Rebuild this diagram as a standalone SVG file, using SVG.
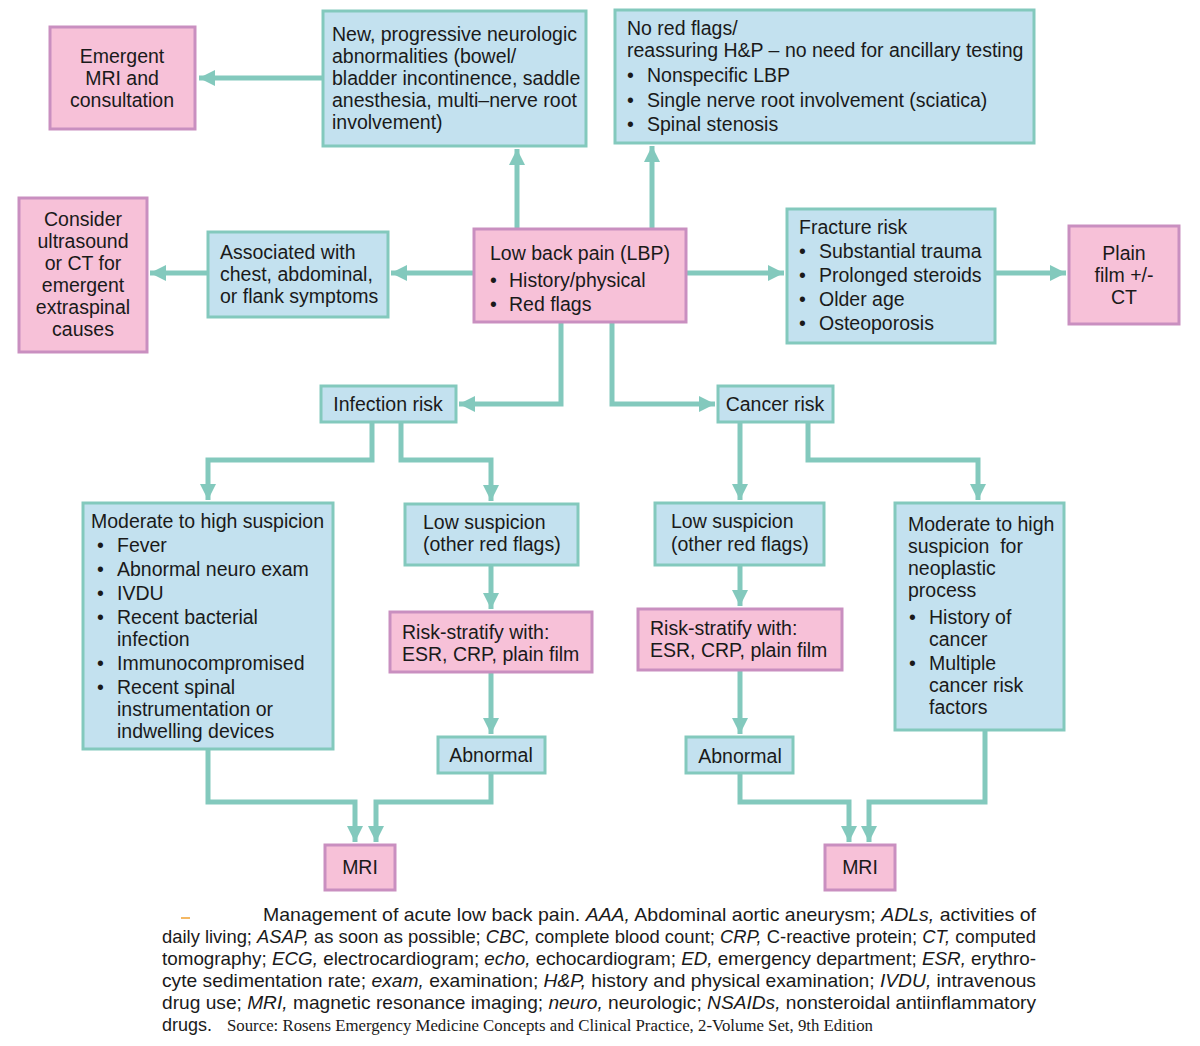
<svg xmlns="http://www.w3.org/2000/svg" width="1200" height="1046" viewBox="0 0 1200 1046">
<style>
.b{fill:#c3e1ef;stroke:#83c9bd;stroke-width:3}
.p{fill:#f7c1d8;stroke:#c98fc0;stroke-width:3}
.t{font-family:"Liberation Sans",Arial,sans-serif;font-size:19.5px;fill:#1a1a1a}
.c{text-anchor:middle}
.k{fill:none;stroke:#83c9bd;stroke-width:5}
.cap{font-family:"Liberation Sans",Arial,sans-serif;font-size:18.5px;fill:#1a1a1a}
.src{font-family:"Liberation Serif","Times New Roman",serif;font-size:16.5px;fill:#1a1a1a}
</style>
<defs>
<marker id="a" markerUnits="userSpaceOnUse" markerWidth="18" markerHeight="16" refX="16" refY="8" orient="auto">
<path d="M0,0 L16,8 L0,16 Z" fill="#83c9bd"/>
</marker>
</defs>
<rect width="1200" height="1046" fill="#fff"/>

<g id="connectors">
<path class="k" d="M323,78 H199" marker-end="url(#a)"/>
<path class="k" d="M517,229 V149" marker-end="url(#a)"/>
<path class="k" d="M652,229 V146" marker-end="url(#a)"/>
<path class="k" d="M474,273 H391" marker-end="url(#a)"/>
<path class="k" d="M208,273 H150" marker-end="url(#a)"/>
<path class="k" d="M686,273 H784" marker-end="url(#a)"/>
<path class="k" d="M995,273 H1066" marker-end="url(#a)"/>
<path class="k" d="M561,322 V404 H459" marker-end="url(#a)"/>
<path class="k" d="M612,322 V404 H715" marker-end="url(#a)"/>
<path class="k" d="M372,422 V460 H208 V500" marker-end="url(#a)"/>
<path class="k" d="M401,422 V460 H491 V501" marker-end="url(#a)"/>
<path class="k" d="M491,565 V609" marker-end="url(#a)"/>
<path class="k" d="M491,672 V734" marker-end="url(#a)"/>
<path class="k" d="M208,749 V802 H355 V842" marker-end="url(#a)"/>
<path class="k" d="M491,773 V802 H376 V842" marker-end="url(#a)"/>
<path class="k" d="M740,422 V500" marker-end="url(#a)"/>
<path class="k" d="M808,422 V460 H978 V500" marker-end="url(#a)"/>
<path class="k" d="M740,565 V606" marker-end="url(#a)"/>
<path class="k" d="M740,670 V734" marker-end="url(#a)"/>
<path class="k" d="M740,773 V802 H849 V842" marker-end="url(#a)"/>
<path class="k" d="M985,730 V802 H869 V842" marker-end="url(#a)"/>
</g>

<g id="emergent-mri">
<rect class="p" x="50" y="27" width="145" height="102"/>
<text class="t c"><tspan x="122" y="63">Emergent</tspan><tspan x="122" y="85">MRI and</tspan><tspan x="122" y="107">consultation</tspan></text>
</g>

<g id="neuro">
<rect class="b" x="323" y="11" width="263" height="135"/>
<text class="t"><tspan x="332" y="41">New, progressive neurologic</tspan><tspan x="332" y="63">abnormalities (bowel/</tspan><tspan x="332" y="85">bladder incontinence, saddle</tspan><tspan x="332" y="107">anesthesia, multi–nerve root</tspan><tspan x="332" y="129">involvement)</tspan></text>
</g>

<g id="no-red-flags">
<rect class="b" x="615" y="10" width="419" height="133"/>
<text class="t"><tspan x="627" y="35">No red flags/</tspan><tspan x="627" y="57">reassuring H&amp;P – no need for ancillary testing</tspan><tspan x="627" y="82">•</tspan><tspan x="647" y="82">Nonspecific LBP</tspan><tspan x="627" y="107">•</tspan><tspan x="647" y="107">Single nerve root involvement (sciatica)</tspan><tspan x="627" y="131">•</tspan><tspan x="647" y="131">Spinal stenosis</tspan></text>
</g>

<g id="consider-us">
<rect class="p" x="19" y="198" width="128" height="154"/>
<text class="t c"><tspan x="83" y="226">Consider</tspan><tspan x="83" y="248">ultrasound</tspan><tspan x="83" y="270">or CT for</tspan><tspan x="83" y="292">emergent</tspan><tspan x="83" y="314">extraspinal</tspan><tspan x="83" y="336">causes</tspan></text>
</g>

<g id="associated">
<rect class="b" x="208" y="232" width="180" height="85"/>
<text class="t"><tspan x="220" y="259">Associated with</tspan><tspan x="220" y="281">chest, abdominal,</tspan><tspan x="220" y="303">or flank symptoms</tspan></text>
</g>

<g id="lbp">
<rect class="p" x="474" y="229" width="212" height="93"/>
<text class="t"><tspan x="490" y="260">Low back pain (LBP)</tspan><tspan x="490" y="287">•</tspan><tspan x="509" y="287">History/physical</tspan><tspan x="490" y="311">•</tspan><tspan x="509" y="311">Red flags</tspan></text>
</g>

<g id="fracture">
<rect class="b" x="787" y="209" width="208" height="134"/>
<text class="t"><tspan x="799" y="234">Fracture risk</tspan><tspan x="799" y="258">•</tspan><tspan x="819" y="258">Substantial trauma</tspan><tspan x="799" y="282">•</tspan><tspan x="819" y="282">Prolonged steroids</tspan><tspan x="799" y="306">•</tspan><tspan x="819" y="306">Older age</tspan><tspan x="799" y="330">•</tspan><tspan x="819" y="330">Osteoporosis</tspan></text>
</g>

<g id="plain-film">
<rect class="p" x="1069" y="226" width="110" height="98"/>
<text class="t c"><tspan x="1124" y="260">Plain</tspan><tspan x="1124" y="282">film +/-</tspan><tspan x="1124" y="304">CT</tspan></text>
</g>

<g id="infection-risk">
<rect class="b" x="321" y="386" width="135" height="36"/>
<text class="t c" x="388" y="411">Infection risk</text>
</g>

<g id="cancer-risk">
<rect class="b" x="718" y="386" width="115" height="36"/>
<text class="t c" x="775" y="411">Cancer risk</text>
</g>

<g id="inf-moderate">
<rect class="b" x="83" y="503" width="250" height="246"/>
<text class="t"><tspan x="91" y="528">Moderate to high suspicion</tspan><tspan x="97" y="552">•</tspan><tspan x="117" y="552">Fever</tspan><tspan x="97" y="576">•</tspan><tspan x="117" y="576">Abnormal neuro exam</tspan><tspan x="97" y="600">•</tspan><tspan x="117" y="600">IVDU</tspan><tspan x="97" y="624">•</tspan><tspan x="117" y="624">Recent bacterial</tspan><tspan x="117" y="646">infection</tspan><tspan x="97" y="670">•</tspan><tspan x="117" y="670">Immunocompromised</tspan><tspan x="97" y="694">•</tspan><tspan x="117" y="694">Recent spinal</tspan><tspan x="117" y="716">instrumentation or</tspan><tspan x="117" y="738">indwelling devices</tspan></text>
</g>

<g id="inf-low">
<rect class="b" x="405" y="504" width="173" height="61"/>
<text class="t"><tspan x="423" y="529">Low suspicion</tspan><tspan x="423" y="551">(other red flags)</tspan></text>
</g>

<g id="inf-stratify">
<rect class="p" x="390" y="612" width="202" height="60"/>
<text class="t"><tspan x="402" y="639">Risk-stratify with:</tspan><tspan x="402" y="661">ESR, CRP, plain film</tspan></text>
</g>

<g id="inf-abnormal">
<rect class="b" x="438" y="737" width="107" height="36"/>
<text class="t c" x="491" y="762">Abnormal</text>
</g>

<g id="mri-left">
<rect class="p" x="325" y="845" width="70" height="45"/>
<text class="t c" x="360" y="874">MRI</text>
</g>

<g id="can-low">
<rect class="b" x="655" y="503" width="169" height="62"/>
<text class="t"><tspan x="671" y="528">Low suspicion</tspan><tspan x="671" y="551">(other red flags)</tspan></text>
</g>

<g id="can-stratify">
<rect class="p" x="638" y="609" width="204" height="61"/>
<text class="t"><tspan x="650" y="635">Risk-stratify with:</tspan><tspan x="650" y="657">ESR, CRP, plain film</tspan></text>
</g>

<g id="can-abnormal">
<rect class="b" x="686" y="737" width="107" height="36"/>
<text class="t c" x="740" y="763">Abnormal</text>
</g>

<g id="can-moderate">
<rect class="b" x="895" y="503" width="169" height="227"/>
<text class="t"><tspan x="908" y="531">Moderate to high</tspan><tspan x="908" y="553">suspicion&#160; for</tspan><tspan x="908" y="575">neoplastic</tspan><tspan x="908" y="597">process</tspan><tspan x="909" y="624">•</tspan><tspan x="929" y="624">History of</tspan><tspan x="929" y="646">cancer</tspan><tspan x="909" y="670">•</tspan><tspan x="929" y="670">Multiple</tspan><tspan x="929" y="692">cancer risk</tspan><tspan x="929" y="714">factors</tspan></text>
</g>

<g id="mri-right">
<rect class="p" x="825" y="845" width="70" height="45"/>
<text class="t c" x="860" y="874">MRI</text>
</g>

<g id="caption">
<line x1="181" y1="918" x2="190" y2="918" stroke="#f0a030" stroke-width="1.5"/>
<text class="cap" x="263" y="921" textLength="773" lengthAdjust="spacingAndGlyphs">Management of acute low back pain. <tspan font-style="italic">AAA,</tspan> Abdominal aortic aneurysm; <tspan font-style="italic">ADLs,</tspan> activities of</text>
<text class="cap" x="162" y="943" textLength="874" lengthAdjust="spacingAndGlyphs">daily living; <tspan font-style="italic">ASAP,</tspan> as soon as possible; <tspan font-style="italic">CBC,</tspan> complete blood count; <tspan font-style="italic">CRP,</tspan> C-reactive protein; <tspan font-style="italic">CT,</tspan> computed</text>
<text class="cap" x="162" y="965" textLength="874" lengthAdjust="spacingAndGlyphs">tomography; <tspan font-style="italic">ECG,</tspan> electrocardiogram; <tspan font-style="italic">echo,</tspan> echocardiogram; <tspan font-style="italic">ED,</tspan> emergency department; <tspan font-style="italic">ESR,</tspan> erythro-</text>
<text class="cap" x="162" y="987" textLength="874" lengthAdjust="spacingAndGlyphs">cyte sedimentation rate; <tspan font-style="italic">exam,</tspan> examination; <tspan font-style="italic">H&amp;P,</tspan> history and physical examination; <tspan font-style="italic">IVDU,</tspan> intravenous</text>
<text class="cap" x="162" y="1009" textLength="874" lengthAdjust="spacingAndGlyphs">drug use; <tspan font-style="italic">MRI,</tspan> magnetic resonance imaging; <tspan font-style="italic">neuro,</tspan> neurologic; <tspan font-style="italic">NSAIDs,</tspan> nonsteroidal antiinflammatory</text>
<text class="cap" x="162" y="1031" textLength="50" lengthAdjust="spacingAndGlyphs">drugs.</text>
<text class="src" x="227" y="1031" textLength="646" lengthAdjust="spacingAndGlyphs">Source: Rosens Emergency Medicine Concepts and Clinical Practice, 2-Volume Set, 9th Edition</text>
</g>
</svg>
